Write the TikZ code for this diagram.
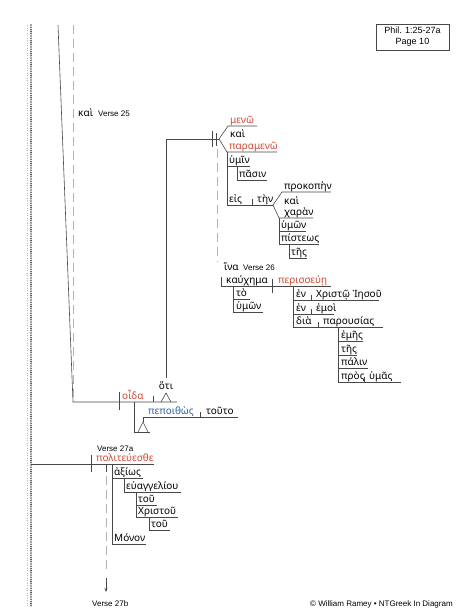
\documentclass[tikz,border=0pt]{standalone}
\usepackage{fontspec}
\usetikzlibrary{arrows.meta}
\setmainfont{Liberation Sans}
\newfontfamily\grk{Noto Sans}
\definecolor{verbred}{RGB}{205,72,52}
\definecolor{partblue}{RGB}{45,95,155}
\definecolor{linegray}{RGB}{72,72,72}
\tikzset{
  gk/.style={anchor=base west, inner sep=0pt, font=\grk\fontsize{10}{12}\selectfont},
  lbl/.style={anchor=base west, inner sep=0pt, font=\fontsize{8}{10}\selectfont},
  ln/.style={draw=linegray, line width=0.6pt},
  dsh/.style={draw=gray!60, line width=0.6pt, dash pattern=on 9pt off 5pt},
}
\begin{document}
\begin{tikzpicture}[x=1pt,y=-1pt]
\useasboundingbox (0,0) rectangle (474,616);
\node[draw=linegray, minimum width=73pt, minimum height=26pt, align=center, inner sep=1pt, font=\fontsize{9}{11}\selectfont] (page) at (412.5,37) {Phil. 1:25-27a\\Page 10};
\draw[gray!55, line width=0.5pt, dash pattern=on 1pt off 1.5pt] (27,25) -- (27,606);
\draw[gray!60!black, line width=1.8pt, line cap=round, dash pattern=on 0pt off 2.2pt] (31,25) -- (31,606);
\draw[ln] (58,25) -- (73,402) -- (177,402);
\draw[dsh] (73,25) -- (73,398);
\node[gk] (kai1) at (78,116) {καὶ};
\node[lbl] (v25) at (98,116) {Verse 25};
\draw[ln] (119,392) -- (119,410);
\node[gk, text=verbred] (oida) at (122,399.5) {οἶδα};
\draw[ln] (153,396) -- (153,402);
\draw[ln] (161,402) -- (166,393) -- (171,402);
\node[gk, anchor=base] (hoti) at (166,389) {ὅτι};
\draw[ln] (166,378) -- (166,139) -- (219,139);
\draw[ln] (212,131) -- (212,147);
\draw[ln] (216,133) -- (216,146);
\draw[dsh] (217,149) -- (217,262);
\draw[ln] (257,126) -- (228,126) -- (219,139) -- (227,152) -- (277,152);
\node[gk, text=verbred] (meno) at (230,123.5) {μενῶ};
\node[gk] (kai2) at (230,137) {καὶ};
\node[gk, text=verbred] (parameno) at (229,149.5) {παραμενῶ};
\draw[ln] (227,152) -- (227,205) -- (273,205);
\draw[ln] (227,166) -- (250,166);
\node[gk] (hymin) at (229,163.5) {ὑμῖν};
\draw[ln] (237,166) -- (237,180) -- (267,180);
\node[gk] (pasin) at (239,177.5) {πᾶσιν};
\node[gk] (eis) at (229,202.5) {εἰς};
\draw[ln] (252,199) -- (252,205);
\node[gk] (ten) at (257,202.5) {τὴν};
\draw[ln] (331,192) -- (282,192) -- (273,205) -- (279,218) -- (313,218);
\node[gk] (prokopen) at (284,189.5) {προκοπὴν};
\node[gk] (kai3) at (284,204) {καὶ};
\node[gk] (charan) at (284,215.5) {χαρὰν};
\draw[ln] (279,218) -- (279,244) -- (319,244);
\draw[ln] (279,231) -- (306,231);
\node[gk] (hymon1) at (281,228.5) {ὑμῶν};
\node[gk] (pisteos) at (281,241.5) {πίστεως};
\draw[ln] (289,244) -- (289,258) -- (307,258);
\node[gk] (tes1) at (291,255.5) {τῆς};
\node[gk] (hina) at (224,270) {ἵνα};
\node[lbl] (v26) at (243,270) {Verse 26};
\draw[ln] (221,277) -- (221,286) -- (331,286);
\node[gk] (kauchema) at (226,283.5) {καύχημα};
\draw[ln] (272,279) -- (272,293);
\node[gk, text=verbred] (perisseue) at (278,283.5) {περισσεύῃ};
\draw[ln] (233,286) -- (233,312) -- (263,312);
\draw[ln] (233,299) -- (250,299);
\node[gk] (to) at (236,296.5) {τὸ};
\node[gk] (hymon2) at (236,309.5) {ὑμῶν};
\draw[ln] (293,286) -- (293,327) -- (383,327);
\draw[ln] (293,300) -- (379,300);
\draw[ln] (293,314) -- (334,314);
\node[gk] (en1) at (296,297.5) {ἐν};
\draw[ln] (311,295) -- (311,300);
\node[gk] (christo) at (316,297.5) {Χριστῷ Ἰησοῦ};
\node[gk] (en2) at (296,311.5) {ἐν};
\draw[ln] (311,309) -- (311,314);
\node[gk] (emoi) at (316,311.5) {ἐμοὶ};
\node[gk] (dia) at (296,324.5) {διὰ};
\draw[ln] (318,322) -- (318,327);
\node[gk] (parousias) at (323,324.5) {παρουσίας};
\draw[ln] (338,327) -- (338,382) -- (401,382);
\draw[ln] (338,341) -- (363,341);
\draw[ln] (338,355) -- (357,355);
\draw[ln] (338,368) -- (368,368);
\node[gk] (emes) at (341,338.5) {ἐμῆς};
\node[gk] (tes2) at (341,352.5) {τῆς};
\node[gk] (palin) at (341,365.5) {πάλιν};
\node[gk] (pros) at (341,379.5) {πρὸς};
\draw[ln] (364,377) -- (364,382);
\node[gk] (hymas) at (369,379.5) {ὑμᾶς};
\draw[ln] (134,402) -- (134,432) -- (150,432);
\draw[ln] (138,432) -- (143,422) -- (148,432);
\draw[ln] (143,422) -- (143,417) -- (238,417);
\node[gk, text=partblue] (pepoithos) at (148,414.5) {πεποιθὼς};
\draw[ln] (200,412) -- (200,417);
\node[gk] (touto) at (206,414.5) {τοῦτο};
\node[lbl] (v27a) at (97,451) {Verse 27a};
\draw[ln] (31,464) -- (154,464);
\draw[ln] (91,455) -- (91,472);
\node[gk, text=verbred] (politeuesthe) at (96,461.5) {πολιτεύεσθε};
\draw[ln] (106,464) -- (106,472);
\draw[dsh] (106,476) -- (106,574);
\draw[ln, -{Stealth[length=4pt,width=3pt]}] (106,578) -- (106,592);
\draw[ln] (112,464) -- (112,544) -- (146,544);
\draw[ln] (112,478) -- (143,478);
\node[gk] (axios) at (114,475.5) {ἀξίως};
\draw[ln] (124,478) -- (124,492) -- (181,492);
\node[gk] (euangeliou) at (126,489.5) {εὐαγγελίου};
\draw[ln] (136,492) -- (136,517) -- (178,517);
\draw[ln] (136,505) -- (157,505);
\node[gk] (tou1) at (138,502.5) {τοῦ};
\node[gk] (christou) at (138,514.5) {Χριστοῦ};
\draw[ln] (149,517) -- (149,530) -- (170,530);
\node[gk] (tou2) at (151,527.5) {τοῦ};
\node[gk] (monon) at (114,541.5) {Μόνον};
\node[lbl] (v27b) at (92,606) {Verse 27b};
\node[lbl] (copy) at (310,606) {© William Ramey • NTGreek In Diagram};
\end{tikzpicture}
\end{document}
